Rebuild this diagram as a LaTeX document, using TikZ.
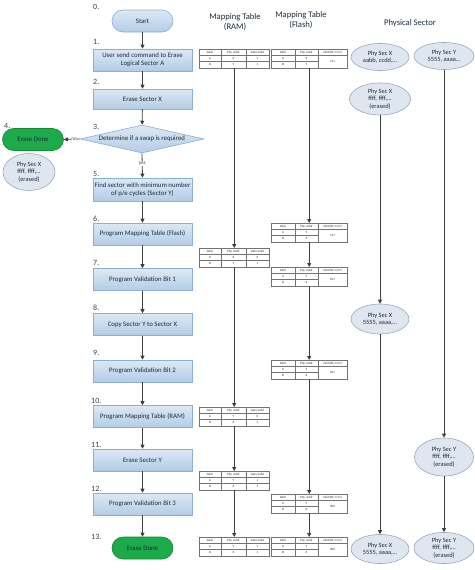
\documentclass[tikz,border=0pt]{standalone}
\usepackage{fontspec}
\setmainfont{Carlito}
\usetikzlibrary{shapes.geometric,arrows.meta,calc}
\definecolor{bxtop}{HTML}{DDE9F5}
\definecolor{bxbot}{HTML}{B3CCE5}
\definecolor{bxdraw}{HTML}{8DAFD2}
\definecolor{grn}{HTML}{1DAA4A}
\definecolor{grndraw}{HTML}{148A3B}
\definecolor{elfill}{HTML}{DFE6F0}
\definecolor{eldraw}{HTML}{9AA8BA}
\definecolor{ln}{HTML}{404040}
\definecolor{txt}{HTML}{1E2A3A}
\newcommand\ramtab[7]{%
  \node[tbl, minimum width=70pt, minimum height=19pt, anchor=north west] (#1) at (199,#2) {};
  \draw[tblline] (199,#2+6.3) -- (269,#2+6.3) (199,#2+12.6) -- (269,#2+12.6)
    (221,#2) -- (221,#2+19) (246,#2) -- (246,#2+19);
  \node[tt] at (210,#2+3.2) {Addr};
  \node[tt] at (233.5,#2+3.2) {Phy. Addr};
  \node[tt] at (257.5,#2+3.2) {Data Valid};
  \node[tt] at (210,#2+9.5) {A};
  \node[tt] at (233.5,#2+9.5) {#3};
  \node[tt] at (257.5,#2+9.5) {#4};
  \node[tt] at (210,#2+15.8) {B};
  \node[tt] at (233.5,#2+15.8) {#5};
  \node[tt] at (257.5,#2+15.8) {#6};
}
\newcommand\flashtab[6]{%
  \node[tbl, minimum width=76pt, minimum height=19pt, anchor=north west] (#1) at (271,#2) {};
  \draw[tblline] (271,#2+6.3) -- (347,#2+6.3) (271,#2+12.6) -- (318,#2+12.6)
    (295,#2) -- (295,#2+19) (318,#2) -- (318,#2+19);
  \node[tt] at (283,#2+3.2) {Addr};
  \node[tt] at (306.5,#2+3.2) {Phy. Addr};
  \node[tt] at (332.5,#2+3.2) {Valid Bit 1/2/3};
  \node[tt] at (283,#2+9.5) {A};
  \node[tt] at (306.5,#2+9.5) {#3};
  \node[tt] at (283,#2+15.8) {B};
  \node[tt] at (306.5,#2+15.8) {#4};
  \node[tt] at (332.5,#2+12.6) {#5};
}
\begin{document}
\begin{tikzpicture}[x=1pt,y=-1pt,
  flowbox/.style={rectangle, draw=bxdraw, line width=0.6pt, top color=bxtop, bottom color=bxbot,
    minimum width=99pt, minimum height=22pt, inner sep=1pt, align=center,
    font=\fontsize{6.8}{8}\selectfont, text=txt},
  startbox/.style={flowbox, rounded corners=11pt, minimum width=61pt},
  donebox/.style={rectangle, rounded corners=11pt, draw=grndraw, line width=0.6pt, fill=grn,
    minimum width=61pt, minimum height=22pt, inner sep=1pt, font=\fontsize{6.8}{8}\selectfont, text=txt},
  decision/.style={diamond, draw=bxdraw, line width=0.6pt, top color=bxtop, bottom color=bxbot,
    minimum width=124pt, minimum height=28pt, inner sep=0pt, aspect=4.4,
    font=\fontsize{6.8}{8}\selectfont, text=txt},
  sector/.style={ellipse, draw=eldraw, line width=0.6pt, fill=elfill, inner sep=0pt, align=center,
    font=\fontsize{6.4}{7.6}\selectfont, text=txt},
  steplbl/.style={anchor=west, inner sep=0pt, font=\fontsize{8}{9}\selectfont, text=black!75},
  header/.style={align=center, font=\fontsize{8.6}{10}\selectfont, text=txt},
  tbl/.style={draw=black!55, line width=0.4pt, fill=white, inner sep=0pt},
  tblline/.style={draw=black!55, line width=0.35pt},
  tt/.style={inner sep=0pt, font=\fontsize{3.2}{3.6}\selectfont, text=black!80},
  flow/.style={draw=ln, line width=0.8pt, -{Triangle[width=4pt,length=4pt]}},
  flowlbl/.style={fill=white, inner sep=0.6pt, font=\fontsize{5.2}{6}\selectfont, text=black!75}
]
\useasboundingbox (0,0) rectangle (474,570);

% step labels
\node[steplbl] (l0) at (93,7) {0.};
\node[steplbl] (l1) at (93,42) {1.};
\node[steplbl] (l2) at (93,82) {2.};
\node[steplbl] (l3) at (93,127) {3.};
\node[steplbl] (l4) at (4,126) {4.};
\node[steplbl] (l5) at (93,174) {5.};
\node[steplbl] (l6) at (93,219) {6.};
\node[steplbl] (l7) at (93,263) {7.};
\node[steplbl] (l8) at (93,308) {8.};
\node[steplbl] (l9) at (93,353) {9.};
\node[steplbl] (l10) at (91,401) {10.};
\node[steplbl] (l11) at (91,445) {11.};
\node[steplbl] (l12) at (91,489) {12.};
\node[steplbl] (l13) at (91,537) {13.};

% flowchart
\node[startbox] (s0) at (142.5,21) {Start};
\node[flowbox] (b1) at (142.5,60) {User send command to Erase\\Logical Sector A};
\node[flowbox, minimum height=20pt] (b2) at (142.5,99) {Erase Sector X};
\node[decision] (d3) at (142,139) {Determine if a swap is required};
\node[donebox] (e4) at (33,139.5) {Erase Done};
\node[sector, minimum width=52pt, minimum height=37pt] (x4) at (29,172) {Phy Sec X\\ffff, ffff,\textellipsis\\(erased)};
\node[flowbox, minimum height=23pt] (b5) at (142.5,189.5) {Find sector with minimum number\\of p/e cycles (Sector Y)};
\node[flowbox] (b6) at (142.5,234) {Program Mapping Table (Flash)};
\node[flowbox] (b7) at (142.5,279.5) {Program Validation Bit 1};
\node[flowbox] (b8) at (142.5,324.5) {Copy Sector Y to Sector X};
\node[flowbox] (b9) at (142.5,371) {Program Validation Bit 2};
\node[flowbox] (b10) at (142.5,416.5) {Program Mapping Table (RAM)};
\node[flowbox] (b11) at (142.5,460) {Erase Sector Y};
\node[flowbox] (b12) at (142.5,504) {Program Validation Bit 3};
\node[donebox] (b13) at (142.5,548) {Erase Done};

\draw[flow] (s0) -- (b1);
\draw[flow] (b1) -- (b2);
\draw[flow] (b2) -- (d3);
\draw[flow] (d3.west) -- node[flowlbl, pos=0.35] {no} (e4.east);
\draw[flow] (d3.south) -- node[flowlbl, pos=0.42] {yes} (b5.north);
\draw[flow] (b5) -- (b6);
\draw[flow] (b6) -- (b7);
\draw[flow] (b7) -- (b8);
\draw[flow] (b8) -- (b9);
\draw[flow] (b9) -- (b10);
\draw[flow] (b10) -- (b11);
\draw[flow] (b11) -- (b12);
\draw[flow] (b12) -- (b13);

% headers
\node[header] (hram) at (235,22) {Mapping Table\\(RAM)};
\node[header] (hfl) at (301,20) {Mapping Table\\(Flash)};
\node[header] (hps) at (410,23) {Physical Sector};

% RAM tables
\ramtab{r1}{49}{X}{1}{Y}{1}{}
\ramtab{r2}{248}{X}{0}{Y}{1}{}
\ramtab{r3}{407}{Y}{0}{X}{1}{}
\ramtab{r4}{471}{Y}{1}{X}{1}{}
\ramtab{r5}{537}{Y}{1}{X}{1}{}
\draw[flow] (r1) -- (r2);
\draw[flow] (r2) -- (r3);
\draw[flow] (r3) -- (r4);
\draw[flow] (r4) -- (r5);

% Flash tables
\flashtab{f1}{49}{X}{Y}{111}{}
\flashtab{f2}{223}{Y}{X}{111}{}
\flashtab{f3}{267}{Y}{X}{011}{}
\flashtab{f4}{360}{Y}{X}{001}{}
\flashtab{f5}{494}{Y}{X}{000}{}
\flashtab{f6}{537}{Y}{X}{000}{}
\draw[flow] (f1) -- (f2);
\draw[flow] (f2) -- (f3);
\draw[flow] (f3) -- (f4);
\draw[flow] (f4) -- (f5);
\draw[flow] (f5) -- (f6);

% physical sectors
\node[sector, minimum width=58pt, minimum height=27pt] (px1) at (380,57) {Phy Sec X\\aabb, ccdd,\textellipsis};
\node[sector, minimum width=60pt, minimum height=27pt] (py1) at (444,56) {Phy Sec Y\\5555, aaaa\textellipsis};
\node[sector, minimum width=61pt, minimum height=32pt] (px2) at (380,99) {Phy Sec X\\ffff, ffff,\textellipsis\\(erased)};
\node[sector, minimum width=58pt, minimum height=30pt] (px3) at (380,319) {Phy Sec X\\5555, aaaa,\textellipsis};
\node[sector, minimum width=58pt, minimum height=29pt] (px4) at (380,549) {Phy Sec X\\5555, aaaa,\textellipsis};
\node[sector, minimum width=59pt, minimum height=38pt] (py2) at (444,457) {Phy Sec Y\\ffff, ffff,\textellipsis\\(erased)};
\node[sector, minimum width=60pt, minimum height=31pt] (py3) at (444,548) {Phy Sec Y\\ffff, ffff,\textellipsis\\(erased)};
\draw[flow] (px2) -- (px3);
\draw[flow] (px3) -- (px4);
\draw[flow] (py1) -- (py2);
\draw[flow] (py2) -- (py3);
\end{tikzpicture}
\end{document}
